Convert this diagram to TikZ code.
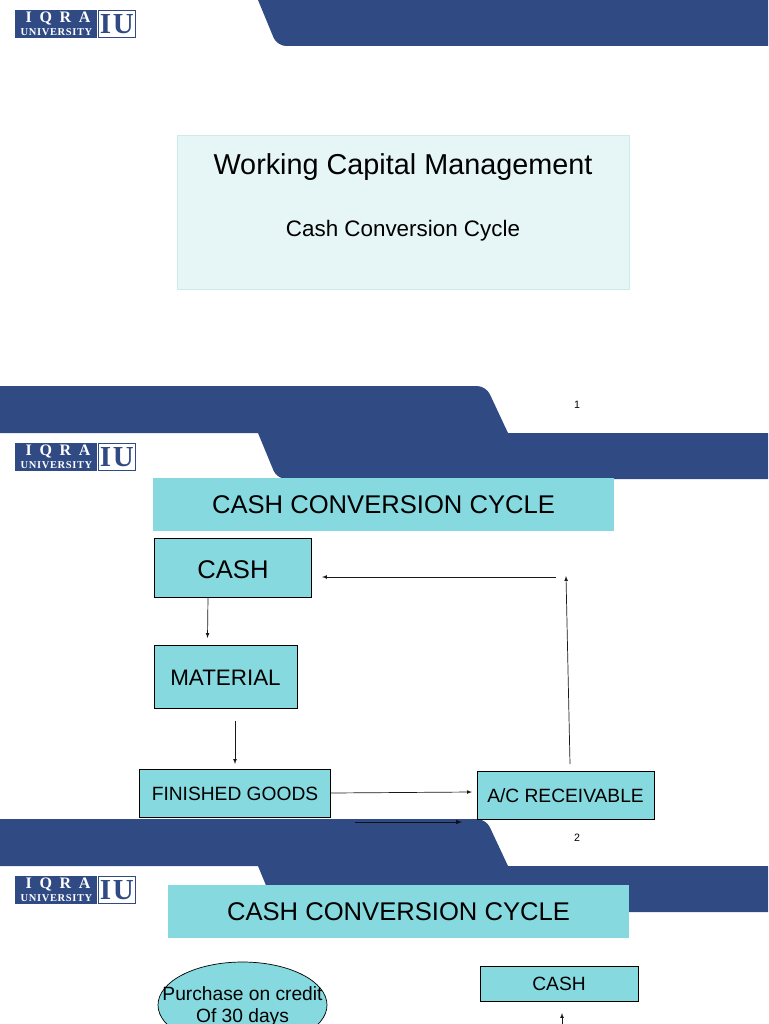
\documentclass[tikz,border=0pt]{standalone}
\usepackage{fontspec}
\setmainfont{Liberation Sans}
\newfontfamily\logofont{Liberation Serif}[LetterSpace=6]
\usetikzlibrary{shapes.geometric}
\definecolor{bandblue}{HTML}{304A84}
\definecolor{boxcyan}{HTML}{85D9DF}
\definecolor{palecyan}{HTML}{E6F5F5}
\definecolor{paleline}{HTML}{CDEBEB}
\tikzset{
  x=1pt,y=-1pt,
  band/.style={fill=bandblue,draw=none},
  titlebar/.style={fill=boxcyan,draw=none,minimum height=53pt,font=\fontsize{25.6}{25.6}\selectfont},
  stage/.style={fill=boxcyan,draw=black,line width=0.7pt,inner sep=0pt},
  link/.style={-latex,line width=0.7pt,black!90},
  pageno/.style={font=\fontsize{10.67}{10.67}\selectfont}
}
\begin{document}
\begin{tikzpicture}
  \useasboundingbox (0,0) rectangle (768,1024);
  \clip (0,0) rectangle (768,1024);
  % Bands of the three slides
  \foreach \slideY/\n in {0/a,433/b,866/c}{
    \begin{scope}[shift={(0,\slideY)}]
      \fill[band] (258,0) [rounded corners=9pt] -- (277,46) [sharp corners] -- (775,46) -- (775,0) -- cycle;
      \node[fill=bandblue,minimum width=82pt,minimum height=28pt,inner sep=0pt] (logo\n) at (56,24) {};
      \node[font=\logofont\bfseries\fontsize{16}{16}\selectfont,text=white] (iqra\n) at (58,18.5) {I\ \,Q\ \,R\ \,A};
      \node[font=\logofont\bfseries\fontsize{10.5}{10.5}\selectfont,text=white] (univ\n) at (56.5,32.5) {UNIVERSITY};
      \node[draw=bandblue,line width=0.8pt,fill=white,minimum width=37.5pt,minimum height=27.5pt,inner sep=0pt] (iu\n) at (116.75,24) {};
      \node[font=\logofont\bfseries\fontsize{29}{29}\selectfont,text=bandblue,inner sep=0pt] (iutext\n) at (116.75,24) {IU};
    \end{scope}
  }
  \foreach \slideY in {0,433}{
    \fill[band,shift={(0,\slideY)}] (-5,386) [rounded corners=9pt] -- (486,386) [sharp corners] -- (508,433) -- (-5,433) -- cycle;
  }
  % Slide 1
  \node[fill=palecyan,draw=paleline,line width=0.6pt,minimum width=452.5pt,minimum height=154pt] (cover) at (403.5,212) {};
  \node[font=\fontsize{28.8}{28.8}\selectfont] (heading) at (403,167) {Working Capital Management};
  \node[font=\fontsize{22.4}{22.4}\selectfont] (subheading) at (403,231) {Cash Conversion Cycle};
  \node[pageno] (pageone) at (577,405) {1};
  % Slide 2
  \node[titlebar,minimum width=461pt] (titletwo) at (383.5,504.5) {\raisebox{-1pt}{CASH CONVERSION CYCLE}};
  \node[stage,minimum width=157.5pt,minimum height=58.5pt] (cash) at (232.75,567.75) {};
  \node[font=\fontsize{25.6}{25.6}\selectfont] (cashtext) at (233,570) {CASH};
  \node[stage,minimum width=143.5pt,minimum height=62.5pt] (material) at (225.75,676.75) {};
  \node[font=\fontsize{22.4}{22.4}\selectfont] (materialtext) at (225.5,678) {MATERIAL};
  \node[stage,minimum width=191.5pt,minimum height=48.5pt] (goods) at (234.75,793.25) {};
  \node[font=\fontsize{19.2}{19.2}\selectfont] (goodstext) at (235,794) {FINISHED GOODS};
  \node[stage,minimum width=177.5pt,minimum height=48.5pt] (receivable) at (565.75,795.25) {};
  \node[font=\fontsize{19.2}{19.2}\selectfont] (receivabletext) at (565.5,795.5) {A/C RECEIVABLE};
  \node[pageno] (pagetwo) at (577,838) {2};
  \coordinate (cashout) at (208,597);
  \coordinate (matin) at (207.5,638);
  \coordinate (matout) at (235,721);
  \coordinate (goodsin) at (235,764);
  \coordinate (goodsout) at (331,793);
  \coordinate (recin) at (472,792);
  \coordinate (extrafrom) at (355,822);
  \coordinate (extrato) at (462,822);
  \coordinate (recup) at (570,764);
  \coordinate (corner) at (566,576);
  \coordinate (backfrom) at (556,577);
  \coordinate (backto) at (322,577);
  \draw[link] (cashout) -- (matin);
  \draw[link] (matout) -- (goodsin);
  \draw[link] (goodsout) -- (recin);
  \draw[link,line width=1pt,black!80!bandblue] (extrafrom) -- (extrato);
  \draw[link] (recup) -- (corner);
  \draw[link] (backfrom) -- (backto);
  % Slide 3
  \node[titlebar,minimum width=461pt] (titlethree) at (398.5,911.5) {\raisebox{-1pt}{CASH CONVERSION CYCLE}};
  \node[ellipse,fill=boxcyan,draw=black,line width=0.7pt,minimum width=169pt,minimum height=86pt,inner sep=0pt] (credit) at (242.5,1005) {};
  \node[font=\fontsize{19.2}{22}\selectfont,align=center] (credittext) at (242.5,1007) {Purchase on credit\\Of 30 days};
  \node[stage,minimum width=158pt,minimum height=35pt] (cashthree) at (559,983.5) {};
  \node[font=\fontsize{19.2}{19.2}\selectfont] (cashthreetext) at (559,983.5) {CASH};
  \coordinate (upfrom) at (562,1030);
  \coordinate (upto) at (562,1013);
  \draw[link] (upfrom) -- (upto);
\end{tikzpicture}
\end{document}
